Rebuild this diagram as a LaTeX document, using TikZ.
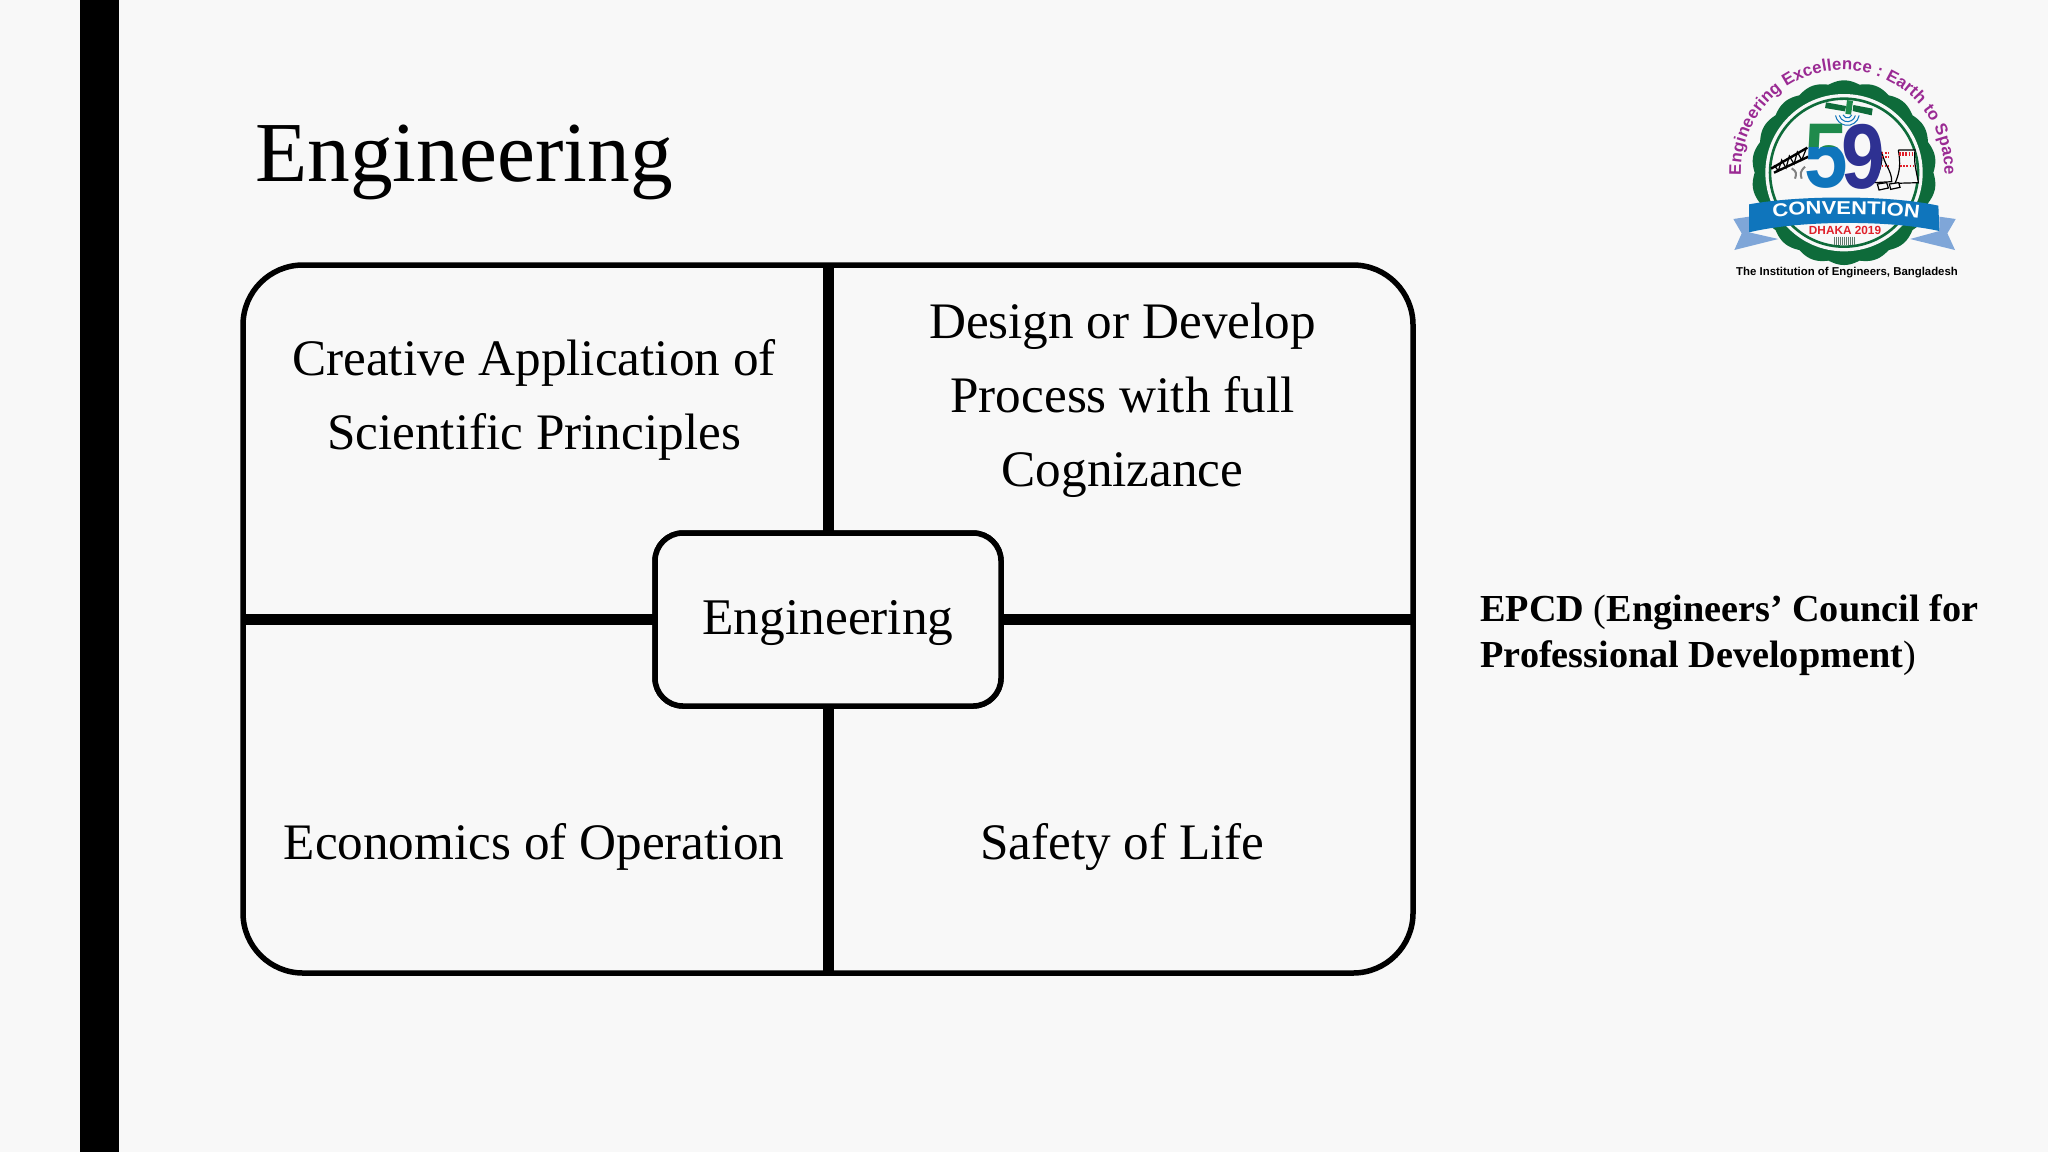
\documentclass[tikz,border=0pt]{standalone}
\usepackage{fontspec}
\usepackage{graphicx}
\setmainfont{Liberation Serif}
\newfontfamily\logosans{Liberation Sans}
\newfontfamily\convfont[FakeStretch=1.18]{Liberation Sans}
\usetikzlibrary{decorations.text}
\definecolor{pagebg}{HTML}{F8F8F8}
\definecolor{lgreen}{HTML}{0E6B3A}
\definecolor{lgreenb}{HTML}{1F8A4C}
\definecolor{lblue}{HTML}{0F75BC}
\definecolor{ltail}{HTML}{7FA6D8}
\definecolor{lnavy}{HTML}{2E3192}
\definecolor{lpurple}{HTML}{9A2A93}
\definecolor{lred}{HTML}{E0202A}
\tikzset{
  framebox/.style={draw=black,line width=2.75pt,rounded corners=30pt,minimum width=585pt,minimum height=354pt,inner sep=0pt,outer sep=0pt},
  hubbox/.style={draw=black,fill=pagebg,line width=2.75pt,rounded corners=14pt,minimum width=173pt,minimum height=86.5pt,inner sep=0pt,outer sep=0pt},
  divider/.style={draw=black,line width=5.5pt},
  celltext/.style={align=center,inner sep=0pt,font=\fontsize{25.6}{37}\selectfont},
}
\begin{document}
\begin{tikzpicture}[x=0.5pt,y=-0.5pt]
\useasboundingbox (0,0) rectangle (2048,1152);
\fill[pagebg] (0,0) rectangle (2048,1152);
\fill[black] (80,0) rectangle (119,1152);
\node[anchor=base west,inner sep=0pt,font=\fontsize{42.7}{50}\selectfont] (title) at (255,181.5) {Engineering};
\node[framebox] (frame) at (828,619) {};
\node[hubbox] (hub) at (828,619.5) {};
\draw[divider] (hub.north) -- (hub.north |- frame.north);
\draw[divider] (hub.south) -- (hub.south |- frame.south);
\draw[divider] (hub.west) -- (hub.west -| frame.west);
\draw[divider] (hub.east) -- (hub.east -| frame.east);
\node[hubbox] (hubtop) at (828,619.5) {};
\node[anchor=base,inner sep=0pt,font=\fontsize{25.7}{37}\selectfont] (hublabel) at (828,634) {Engineering};
\node[celltext] (cellA) at (534,400) {Creative Application of\\Scientific Principles};
\node[celltext] (cellB) at (1122.5,400) {Design or Develop\\Process with full\\Cognizance};
\node[celltext] (cellC) at (534,847) {Economics of Operation};
\node[celltext] (cellD) at (1122.5,847) {Safety of Life};
\node[anchor=west,align=left,inner sep=0pt,font=\fontsize{19.1}{23}\selectfont\bfseries] (epcd) at (1480,635) {EPCD {\mdseries(}Engineers’ Council for\\Professional Development{\mdseries)}};
\begin{scope}[shift={(1700,40)},x=0.16667pt,y=-0.16667pt]
  \fill[ltail] (100,537) -- (147,530) -- (147,577) -- (235,597) -- (103,630) -- (125,580) -- cycle;
  \fill[ltail] (767,537) -- (718,530) -- (718,573) -- (630,597) -- (765,630) -- (742,580) -- cycle;
  \fill[lgreen] plot[domain=0:360,samples=361] ({432+(268+9*abs(sin(9*\x)))*cos(\x)},{398+(268+9*abs(sin(9*\x)))*sin(\x)}) -- cycle;
  \fill[pagebg] (432,398) circle[radius=236];
  \draw[lgreen,line width=1.3pt] (432,398) circle[radius=222];
  % satellite
  \fill[lgreen] (378,187) -- (438,198) -- (435,214) -- (375,204) -- cycle;
  \fill[lgreen] (460,195) -- (518,206) -- (515,226) -- (458,213) -- cycle;
  \fill[lgreenb] (441,180) -- (459,183) -- (453,224) -- (436,221) -- cycle;
  \draw[lblue,line width=.5pt] (442,220) ++(20:14) arc[start angle=20,end angle=160,radius=14];
  \draw[lblue,line width=.5pt] (442,220) ++(15:25) arc[start angle=15,end angle=165,radius=25];
  \draw[lblue,line width=.5pt] (442,220) ++(10:36) arc[start angle=10,end angle=170,radius=36];
  % cooling towers
  \draw[black,fill=pagebg,line width=.6pt] (545,335) .. controls (555,380) and (575,390) .. (575,425) -- (520,428) .. controls (540,395) and (548,370) .. (545,335);
  \draw[black,fill=pagebg,line width=.6pt] (595,330) -- (645,330) .. controls (640,370) and (650,395) .. (655,428) -- (585,430) .. controls (600,395) and (602,370) .. (595,330);
  \foreach \yy in {338,346} \draw[lred,line width=.9pt,dash pattern=on .8pt off .8pt] (597,\yy) -- (643,\yy);
  \draw[lred,line width=.9pt,dash pattern=on .8pt off .8pt] (600,378) -- (642,378);
  \foreach \yy in {340,350} \draw[lred,line width=.9pt,dash pattern=on .8pt off .8pt] (545,\yy) -- (565,\yy);
  \draw[lred,line width=.9pt,dash pattern=on .8pt off .8pt] (535,378) -- (565,378);
  \draw[black,fill=pagebg,line width=.6pt] (532,432) -- (560,428) -- (565,444) -- (537,450) -- cycle;
  \draw[black,fill=pagebg,line width=.6pt] (568,432) -- (596,428) -- (600,442) -- (572,448) -- cycle;
  % bridge
  \draw[black,line width=1.2pt] (213,386) -- (322,323);
  \draw[black,line width=1.2pt] (222,398) -- (325,350);
  \draw[black,line width=.6pt] (222,376) -- (235,392) -- (245,360) -- (258,384) -- (268,348) -- (282,372) -- (292,336) -- (305,360) -- (318,328);
  \draw[gray,line width=1pt] (275,385) .. controls (290,395) and (290,400) .. (285,416);
  \draw[gray,line width=1pt] (315,380) .. controls (300,395) and (300,400) .. (305,416);
  % the numerals
  \begin{scope}
    \clip (300,230) rectangle (445,322);
    \node[inner sep=0pt,text=lgreenb,font=\logosans\bfseries\fontsize{46}{46}\selectfont] (fiveA) at (380,350) {\scalebox{.85}[1]{5}};
  \end{scope}
  \begin{scope}
    \clip (300,322) rectangle (445,470);
    \node[inner sep=0pt,text=lblue,font=\logosans\bfseries\fontsize{46}{46}\selectfont] (fiveB) at (380,350) {\scalebox{.85}[1]{5}};
  \end{scope}
  \node[inner sep=0pt,text=lnavy,font=\logosans\bfseries\fontsize{46}{46}\selectfont] (nine) at (490,350) {\scalebox{.85}[1]{9}};
  % banner
  \fill[lblue] (147,493) .. controls (300,465) and (570,465) .. (715,497) -- (718,573) .. controls (570,540) and (300,540) .. (147,577) -- cycle;
  \path[decorate,decoration={text along path,text align=center,text={|\convfont\bfseries\fontsize{9.3}{10}\selectfont\color{white}|CONVENTION}}] (215,534) .. controls (320,518) and (550,518) .. (662,536);
  \node[inner sep=0pt,text=lred,font=\logosans\bfseries\fontsize{5.9}{6}\selectfont] (dhaka) at (435,570) {DHAKA 2019};
  \foreach \xx in {402,408,...,462} \draw[gray!70!lgreen,line width=.35pt] (\xx,590) -- (\xx,615);
  % curved motto
  \path[decorate,decoration={text along path,text align=fit to path,text={|\logosans\bfseries\fontsize{8.4}{9}\selectfont\color{lpurple}|Engineering Excellence : Earth to Space}}] (428,395) ++(-182:305) arc[start angle=-182,end angle=2,radius=305];
  \node[inner sep=0pt,text=black,font=\logosans\bfseries\fontsize{5.7}{6}\selectfont] (ieb) at (441,697) {The Institution of Engineers, Bangladesh};
\end{scope}
\end{tikzpicture}
\end{document}
